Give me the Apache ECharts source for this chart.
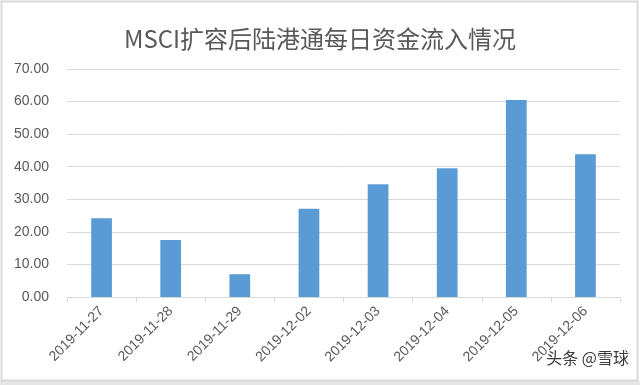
<!DOCTYPE html>
<html><head><meta charset="utf-8">
<script src="https://cdn.jsdelivr.net/npm/echarts@6/dist/echarts.min.js"></script>
<style>html,body{margin:0;padding:0;background:#fff}#c{width:640px;height:385px}</style>
</head><body><div id="c"></div>
<script>
const title = 'MSCI扩容后陆港通每日资金流入情况';
const categories = ['2019-11-27','2019-11-28','2019-11-29','2019-12-02','2019-12-03','2019-12-04','2019-12-05','2019-12-06'];
const values = [24.2, 17.5, 7.0, 27.1, 34.6, 39.5, 60.5, 43.8];
const yTicks = {min: 0, max: 70, interval: 10};
const watermark = '头条 @雪球';

const chart = echarts.init(document.getElementById('c'), null, {renderer: 'canvas'});
chart.setOption({
  animation: false,
  backgroundColor: '#fff',
  title: {
    text: title, left: 'center', top: 22,
    textStyle: {fontFamily: 'Noto Sans CJK SC', fontSize: 24, fontWeight: 'normal', color: '#595959'}
  },
  grid: {left: 67, right: 20, top: 69, bottom: 88},
  xAxis: {
    type: 'category', data: categories, boundaryGap: true,
    axisLine: {lineStyle: {color: '#d9d9d9'}},
    axisTick: {show: true, alignWithLabel: false, length: 5, lineStyle: {color: '#d9d9d9'}},
    axisLabel: {rotate: 45, color: '#595959', fontSize: 14, fontFamily: 'Liberation Sans', margin: 12, interval: 0}
  },
  yAxis: {
    type: 'value', min: yTicks.min, max: yTicks.max, interval: yTicks.interval,
    axisLine: {show: false}, axisTick: {show: false},
    splitLine: {lineStyle: {color: '#d9d9d9', width: 1}},
    axisLabel: {formatter: v => v.toFixed(2), color: '#595959', fontSize: 14, fontFamily: 'Liberation Sans', margin: 18}
  },
  series: [{
    type: 'bar', data: values, barWidth: '30%',
    itemStyle: {color: '#5B9BD5'}
  }],
  graphic: [
    {type: 'rect', shape: {x: 0, y: 381, width: 640, height: 4}, style: {fill: '#e6e6e6'}, silent: true},
    {type: 'rect', shape: {x: 1.5, y: 1.5, width: 636, height: 379}, style: {fill: 'none', stroke: '#dadada', lineWidth: 2}, silent: true},
    {type: 'text', right: 10, bottom: 18, style: {text: watermark, fontSize: 16, fontFamily: 'Noto Sans CJK SC', fill: '#3a3a3a', stroke: '#fff', lineWidth: 2}}
  ]
});
</script></body></html>
